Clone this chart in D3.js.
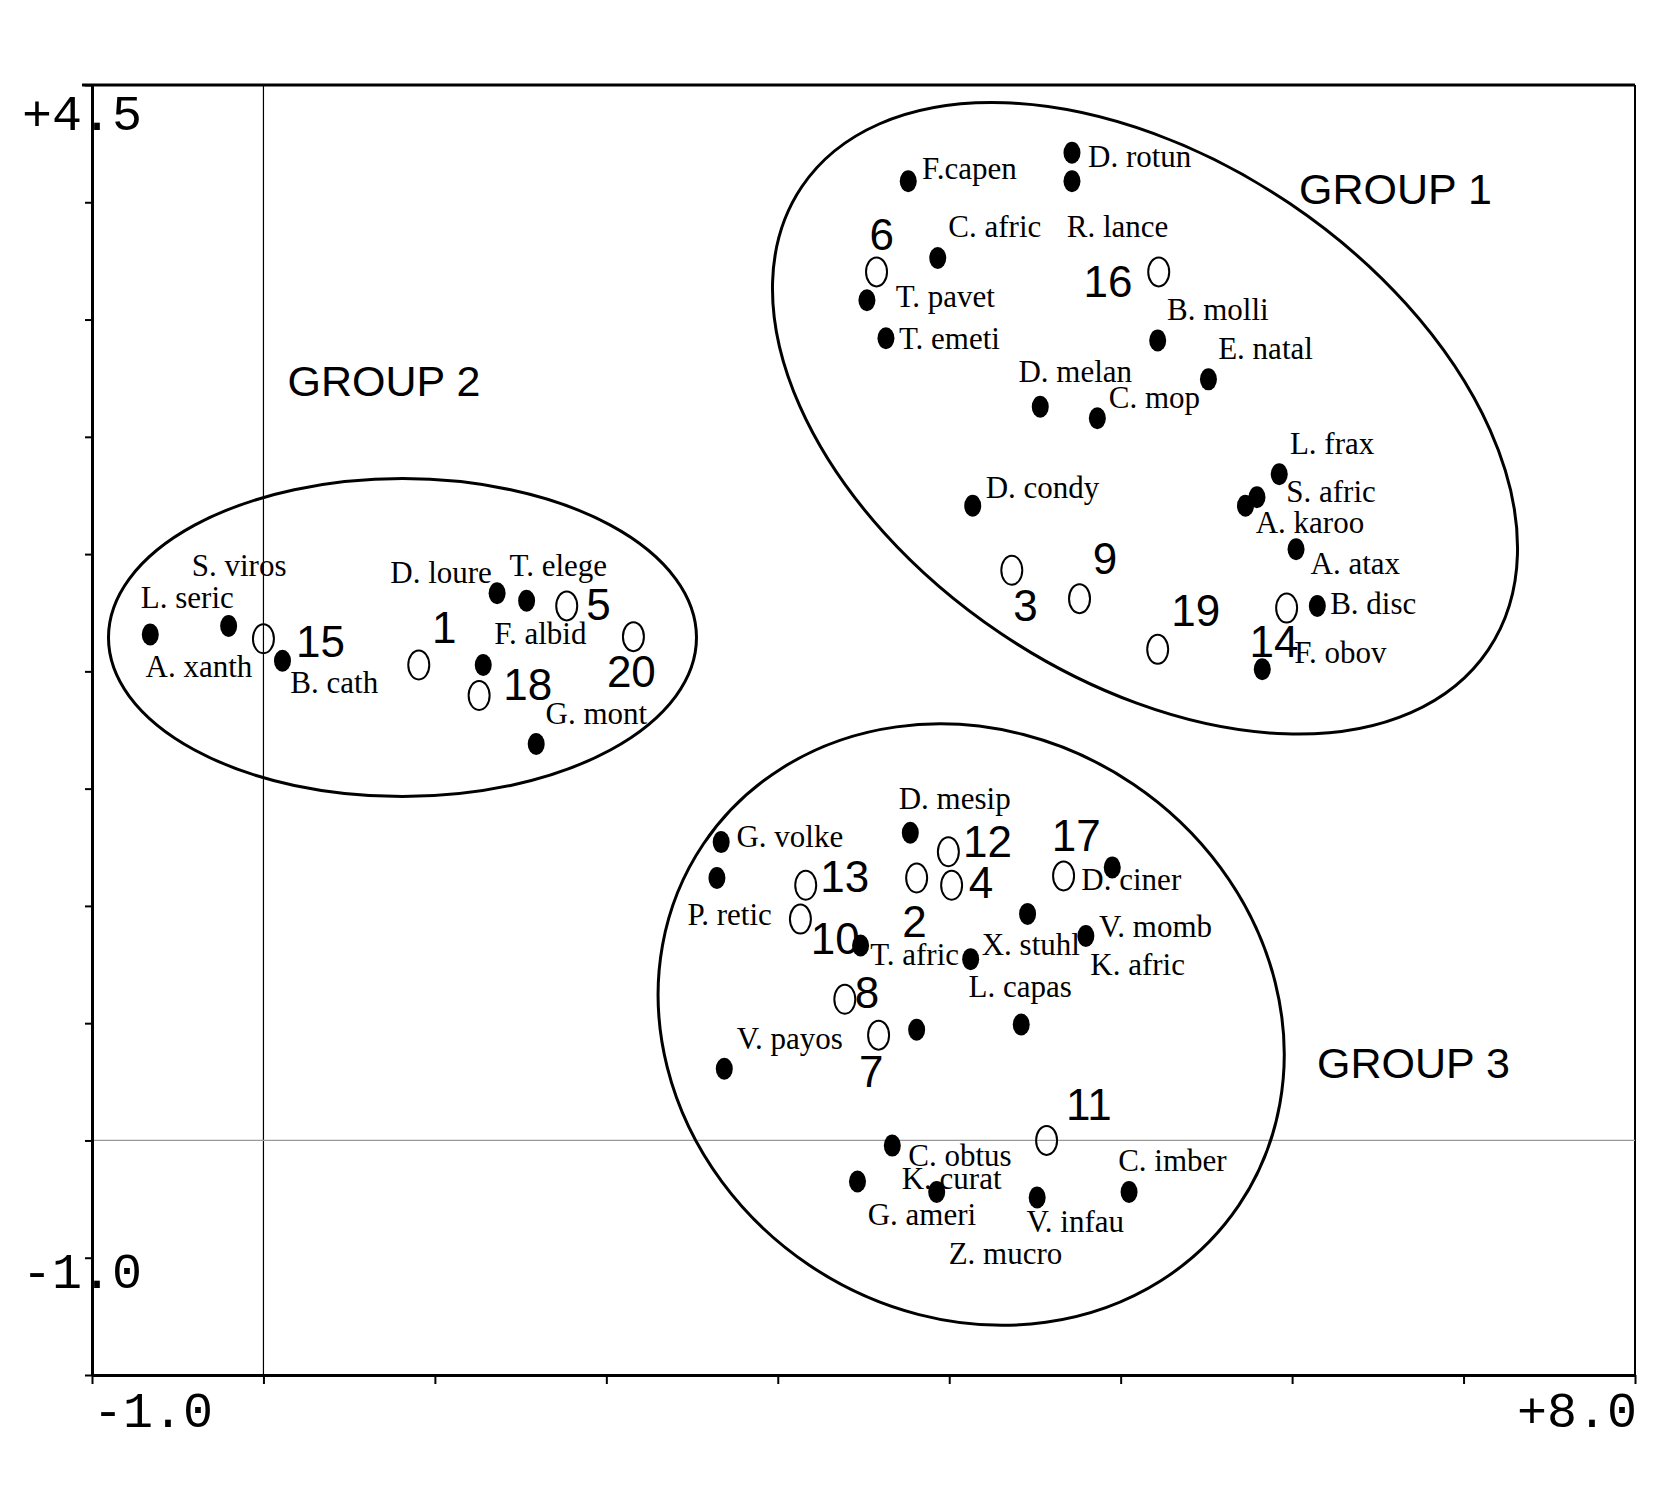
<!DOCTYPE html>
<html>
<head>
<meta charset="utf-8">
<script src="https://cdn.jsdelivr.net/npm/d3@7"></script>
<style>
body { margin: 0; background: #fff; }
</style>
</head>
<body>
<div class="chart"></div>
<script>
// species scores (filled dots), axis 1 / axis 2
let speciesPts = [
	// group 2
	[-0.660, 2.157], [-0.203, 2.193], [0.111, 2.045], [1.363, 2.333],
	[1.535, 2.301], [1.282, 2.027], [1.591, 1.690],
	// group 1
	[3.761, 4.090], [4.716, 4.211], [4.716, 4.090], [3.933, 3.762],
	[3.520, 3.582], [3.631, 3.420], [5.216, 3.411], [5.512, 3.245],
	[4.531, 3.128], [4.864, 3.079], [4.137, 2.706], [5.925, 2.840],
	[5.795, 2.742], [5.728, 2.706], [6.023, 2.521], [6.147, 2.279],
	[5.826, 2.009],
	// group 3
	[2.670, 1.272], [2.645, 1.119], [3.773, 1.312], [4.951, 1.164],
	[4.457, 0.966], [4.797, 0.872], [3.483, 0.831], [4.125, 0.773],
	[3.810, 0.472], [4.420, 0.494], [2.688, 0.306], [3.668, -0.022],
	[3.465, -0.175], [3.927, -0.220], [4.513, -0.243], [5.049, -0.220]
];

// species names, placed at these axis values
let speciesLabels = [
	['S. viros', -0.142, 2.454], ['L. seric', -0.444, 2.315], ['A. xanth', -0.376, 2.022],
	['B. cath', 0.413, 1.955], ['D. loure', 1.036, 2.422], ['T. elege', 1.720, 2.454],
	['F. albid', 1.615, 2.162], ['G. mont', 1.942, 1.820],
	['F.capen', 4.118, 4.144], ['D. rotun', 5.111, 4.198], ['R. lance', 4.982, 3.897],
	['C. afric', 4.266, 3.897], ['T. pavet', 3.977, 3.600], ['T. emeti', 4.001, 3.420],
	['B. molli', 5.567, 3.546], ['E. natal', 5.845, 3.380], ['D. melan', 4.735, 3.281],
	['C. mop', 5.197, 3.169], ['D. condy', 4.544, 2.787], ['L. frax', 6.233, 2.975],
	['S. afric', 6.227, 2.769], ['A. karoo', 6.104, 2.638], ['A. atax', 6.369, 2.463],
	['B. disc', 6.473, 2.292], ['F. obov', 6.282, 2.081],
	['G. volke', 3.070, 1.299], ['P. retic', 2.719, 0.966], ['D. mesip', 4.032, 1.461],
	['D. ciner', 5.062, 1.115], ['X. stuhl', 4.476, 0.836], ['V. momb', 5.203, 0.912],
	['K. afric', 5.099, 0.751], ['T. afric', 3.798, 0.796], ['L. capas', 4.414, 0.656],
	['V. payos', 3.070, 0.436], ['C. obtus', 4.063, -0.063], ['K. curat', 4.014, -0.162],
	['G. ameri', 3.841, -0.315], ['V. infau', 4.735, -0.346], ['C. imber', 5.302, -0.085],
	['Z. mucro', 4.328, -0.481]
];

// sample scores (open circles)
let samplePts = [
	['15', 0.000, 2.139], ['1', 0.906, 2.027], ['5', 1.769, 2.279], ['20', 2.158, 2.148],
	['18', 1.258, 1.897],
	['6', 3.576, 3.703], ['16', 5.222, 3.703], ['3', 4.365, 2.431], ['9', 4.760, 2.310],
	['19', 5.216, 2.094], ['14', 5.968, 2.270],
	['12', 3.995, 1.231], ['13', 3.163, 1.088], ['2', 3.810, 1.119], ['4', 4.014, 1.088],
	['17', 4.667, 1.128], ['10', 3.132, 0.944], ['8', 3.391, 0.602], ['7', 3.588, 0.449],
	['11', 4.568, 0.000]
];

// sample numbers, placed at these axis values
let sampleLabels = [
	['15', 0.333, 2.130], ['1', 1.054, 2.189], ['5', 1.954, 2.288], ['20', 2.146, 2.000],
	['18', 1.541, 1.946],
	['6', 3.607, 3.865], ['16', 4.926, 3.663], ['3', 4.445, 2.283], ['9', 4.908, 2.481],
	['19', 5.438, 2.261], ['14', 5.894, 2.130],
	['12', 4.223, 1.276], ['13', 3.391, 1.128], ['2', 3.798, 0.935], ['4', 4.186, 1.101],
	['17', 4.741, 1.303], ['10', 3.335, 0.863], ['8', 3.520, 0.634], ['7', 3.545, 0.297],
	['11', 4.815, 0.153]
];

// group names and their label / ellipse centres
let groupNames = ['GROUP 1', 'GROUP 2', 'GROUP 3'];
let groupLabelPos = [[6.603, 4.058], [0.703, 3.240], [6.708, 0.333]];
let groupCentres = [[5.142, 3.079], [0.811, 2.144], [4.128, 0.494]];

let xDomain = [-1, 8];
let yDomain = [-1, 4.5];
let xTickLabels = ['-1.0', '+8.0'];
let yTickLabels = ['+4.5', '-1.0'];

// ellipse sizes in px (a, b, rotation deg)
let ellipseShape = [[414, 259, 34], [294, 159, 0], [323, 290, 34]];

let width = 1655, height = 1497;

let svg = d3.select('.chart')
	.append('svg')
	.attr('width', width)
	.attr('height', height)
	.style('display', 'block');

let xScale = d3.scaleLinear().domain(xDomain).range([92, 1635]);
let yScale = d3.scaleLinear().domain(yDomain).range([1375, 85]);

// frame: top and right border
svg.append('line')
	.attr('x1', xScale(-1) - 10).attr('x2', xScale(8))
	.attr('y1', yScale(4.5)).attr('y2', yScale(4.5))
	.style('stroke', '#000').style('stroke-width', 3);
svg.append('line')
	.attr('x1', xScale(8)).attr('x2', xScale(8))
	.attr('y1', yScale(4.5)).attr('y2', yScale(-1))
	.style('stroke', '#000').style('stroke-width', 2);

// zero lines
svg.append('line')
	.attr('x1', xScale(0)).attr('x2', xScale(0))
	.attr('y1', yScale(4.5)).attr('y2', yScale(-1))
	.style('stroke', '#000').style('stroke-width', 1.2);
svg.append('line')
	.attr('x1', xScale(-1)).attr('x2', xScale(8))
	.attr('y1', yScale(0)).attr('y2', yScale(0))
	.style('stroke', '#999').style('stroke-width', 1.2);

// axes
let xAxis = svg.append('g')
	.attr('transform', 'translate(0, ' + yScale(-1) + ')')
	.call(d3.axisBottom(xScale).tickValues(d3.range(-1, 9)).tickSize(9).tickSizeOuter(0).tickFormat(''));
let yAxis = svg.append('g')
	.attr('transform', 'translate(' + xScale(-1) + ', 0)')
	.call(d3.axisLeft(yScale).tickValues(d3.range(-1, 4.51, 0.5)).tickSize(7).tickSizeOuter(0).tickFormat(''));
[xAxis, yAxis].forEach(a => {
	a.select('.domain').style('stroke', '#000').style('stroke-width', 3);
	a.selectAll('.tick line').style('stroke', '#000').style('stroke-width', 2);
});

// axis end labels (CANOCO style)
let monoFont = '"Liberation Mono", "Courier New", monospace';
svg.append('text').text(yTickLabels[0])
	.attr('x', 22).attr('y', yScale(4.5) + 45)
	.style('font-family', monoFont).style('font-size', '50px');
svg.append('text').text(yTickLabels[1])
	.attr('x', 22).attr('y', yScale(-1) - 87)
	.style('font-family', monoFont).style('font-size', '50px');
svg.append('text').text(xTickLabels[0])
	.attr('x', xScale(-1) + 1).attr('y', yScale(-1) + 52)
	.style('font-family', monoFont).style('font-size', '50px');
svg.append('text').text(xTickLabels[1])
	.attr('x', xScale(8) + 2).attr('y', yScale(-1) + 52)
	.attr('text-anchor', 'end')
	.style('font-family', monoFont).style('font-size', '50px');

// group ellipses
svg.selectAll('.group')
	.data(groupCentres)
	.enter()
	.append('ellipse')
	.attr('class', 'group')
	.attr('transform', (d, i) => 'translate(' + xScale(d[0]) + ',' + yScale(d[1]) + ') rotate(' + ellipseShape[i][2] + ')')
	.attr('rx', (d, i) => ellipseShape[i][0])
	.attr('ry', (d, i) => ellipseShape[i][1])
	.style('fill', 'none')
	.style('stroke', '#000')
	.style('stroke-width', 3);

// species dots
svg.selectAll('.sp')
	.data(speciesPts)
	.enter()
	.append('ellipse')
	.attr('class', 'sp')
	.attr('cx', d => xScale(d[0]))
	.attr('cy', d => yScale(d[1]))
	.attr('rx', 8.5)
	.attr('ry', 11)
	.style('fill', '#000');

// sample circles
svg.selectAll('.sa')
	.data(samplePts)
	.enter()
	.append('ellipse')
	.attr('class', 'sa')
	.attr('cx', d => xScale(d[1]))
	.attr('cy', d => yScale(d[2]))
	.attr('rx', 10.5)
	.attr('ry', 14.5)
	.style('fill', 'none')
	.style('stroke', '#000')
	.style('stroke-width', 2);

// species names
svg.selectAll('.spl')
	.data(speciesLabels)
	.enter()
	.append('text')
	.attr('class', 'spl')
	.attr('x', d => xScale(d[1]))
	.attr('y', d => yScale(d[2]))
	.attr('dy', '0.35em')
	.attr('text-anchor', 'middle')
	.style('font-family', '"Liberation Serif", "Times New Roman", serif')
	.style('font-size', '31px')
	.text(d => d[0]);

// sample numbers
svg.selectAll('.sal')
	.data(sampleLabels)
	.enter()
	.append('text')
	.attr('class', 'sal')
	.attr('x', d => xScale(d[1]))
	.attr('y', d => yScale(d[2]))
	.attr('dy', '0.36em')
	.attr('text-anchor', 'middle')
	.style('font-family', '"Liberation Sans", Arial, sans-serif')
	.style('font-size', '44px')
	.text(d => d[0]);

// group names
svg.selectAll('.gl')
	.data(groupNames)
	.enter()
	.append('text')
	.attr('class', 'gl')
	.attr('x', (d, i) => xScale(groupLabelPos[i][0]))
	.attr('y', (d, i) => yScale(groupLabelPos[i][1]))
	.attr('dy', '0.36em')
	.attr('text-anchor', 'middle')
	.style('font-family', '"Liberation Sans", Arial, sans-serif')
	.style('font-size', '43px')
	.text(d => d);
</script>
</body>
</html>
